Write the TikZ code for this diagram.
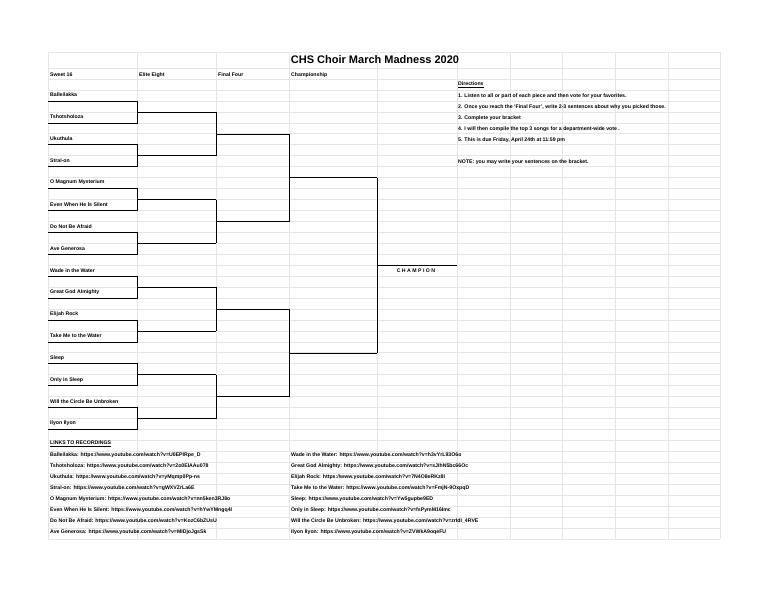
\documentclass[tikz,border=0pt]{standalone}
\usepackage{fontspec}
\setmainfont{Liberation Sans}
\begin{document}
\begin{tikzpicture}[x=1pt,y=-1pt,
  grid/.style={draw=black!10,line width=0.5pt},
  brk/.style={draw=black,line width=0.8pt},
  tiny/.style={font=\fontsize{5.2}{6}\selectfont\bfseries,anchor=west,inner sep=0pt},
  hdr/.style={tiny}]
\useasboundingbox[fill=white] (0,0) rectangle (768,594);
% grid
\draw[grid] (48,52) -- (720,52);
\foreach \k in {0,...,43} \draw[grid] (48,68+10.95*\k) -- (720,68+10.95*\k);
\foreach \x in {48,137,216,289,377,457,510,562,615,668,720} \draw[grid] (\x,52) -- (\x,539);
% title
\node[font=\fontsize{11}{13}\selectfont\bfseries,inner sep=0pt] (title) at (375,60) {CHS Choir March Madness 2020};
\node[hdr] (h1) at (50,75) {Sweet 16};
\node[hdr] (h2) at (139,75) {Elite Eight};
\node[hdr] (h3) at (218,75) {Final Four};
\node[hdr] (h4) at (291,75) {Championship};
% songs
\foreach \t [count=\i from 0] in {Balleilakka,Tshotsholoza,Ukuthula,Stral-on,O Magnum Mysterium,Even When He Is Silent,Do Not Be Afraid,Ave Generosa,Wade in the Water,Great God Almighty,Elijah Rock,Take Me to the Water,Sleep,Only in Sleep,Will the Circle Be Unbroken,Ilyon Ilyon}
  \node[tiny] (s\i) at (50,95+21.9*\i) {\t};
% bracket
\foreach \k in {0,...,7} {
  \coordinate (a\k) at (48,101+43.8*\k);
  \coordinate (b\k) at (48,123+43.8*\k);
  \draw[brk] (a\k) -- ++(89,0) -- ++(0,22) -- (b\k);
  \coordinate (e\k) at (137,112+43.8*\k);
  \draw[brk] (e\k) -- ++(79,0);
}
\foreach \m in {0,...,3} {
  \pgfmathtruncatemacro{\p}{2*\m}\pgfmathtruncatemacro{\q}{2*\m+1}
  \draw[brk] ([xshift=79pt]e\p) -- ([xshift=79pt]e\q);
  \coordinate (f\m) at (216,133.9+87.6*\m);
  \draw[brk] (f\m) -- ++(73,0);
}
\foreach \n in {0,1} {
  \pgfmathtruncatemacro{\p}{2*\n}\pgfmathtruncatemacro{\q}{2*\n+1}
  \draw[brk] ([xshift=73pt]f\p) -- ([xshift=73pt]f\q);
  \coordinate (c\n) at (289,177.7+175.2*\n);
  \draw[brk] (c\n) -- ++(88,0);
}
\draw[brk] ([xshift=88pt]c0) -- ([xshift=88pt]c1);
\coordinate (ch) at (377,265.3);
\draw[brk] (ch) -- ++(80,0);
\node[tiny,anchor=center] (champ) at (416,271) {C H A M P I O N};
% directions
\node[tiny] (dir) at (458,85) {\underline{Directions}};
\node[tiny] (d1) at (458,96) {1. Listen to all or part of each piece and then vote for your favorites.};
\node[tiny] (d2) at (458,107) {2. Once you reach the `Final Four', write 2-3 sentences about why you picked those.};
\node[tiny] (d3) at (458,118) {3. Complete your bracket};
\node[tiny] (d4) at (458,129) {4. I will then compile the top 3 songs for a department-wide vote .};
\node[tiny] (d5) at (458,140) {5. This is due Friday, April 24th at 11:59 pm};
\node[tiny] (note) at (458,162) {NOTE: you may write your sentences on the bracket.};
% links
\node[tiny] (lk) at (50,444) {\underline{LINKS TO RECORDINGS}};
\foreach \t [count=\i from 0] in {
 Balleilakka: https://www.youtube.com/watch?v=U0EPIRpe\_D,
 Tshotsholoza: https://www.youtube.com/watch?v=2o0EIAAu078,
 Ukuthula: https://www.youtube.com/watch?v=yMqmp0Pp-ns,
 Stral-on: https://www.youtube.com/watch?v=gWXVZrLa6E,
 O Magnum Mysterium: https://www.youtube.com/watch?v=nn5ken3RJ8o,
 Even When He Is Silent: https://www.youtube.com/watch?v=hYwYMngq4I,
 Do Not Be Afraid: https://www.youtube.com/watch?v=KozC6bZUsU,
 Ave Generosa: https://www.youtube.com/watch?v=MIDjoJgsSk}
  \node[tiny] (l\i) at (50,455+11*\i) {\t};
\foreach \t [count=\i from 0] in {
 Wade in the Water: https://www.youtube.com/watch?v=h3vYrL93O6o,
 Great God Almighty: https://www.youtube.com/watch?v=sJIhN5bc66Oc,
 Elijah Rock: https://www.youtube.com/watch?v=7N4O8eRKz8I,
 Take Me to the Water: https://www.youtube.com/watch?v=FmjN-9OxpqD,
 Sleep: https://www.youtube.com/watch?v=Yw5gupbe9ED,
 Only in Sleep: https://www.youtube.com/watch?v=fsPymM16Imc,
 Will the Circle Be Unbroken: https://www.youtube.com/watch?v=zrIdI\_4RVE,
 Ilyon Ilyon: https://www.youtube.com/watch?v=ZVWkA9oqeFU}
  \node[tiny] (r\i) at (291,455+11*\i) {\t};
\end{tikzpicture}
\end{document}
